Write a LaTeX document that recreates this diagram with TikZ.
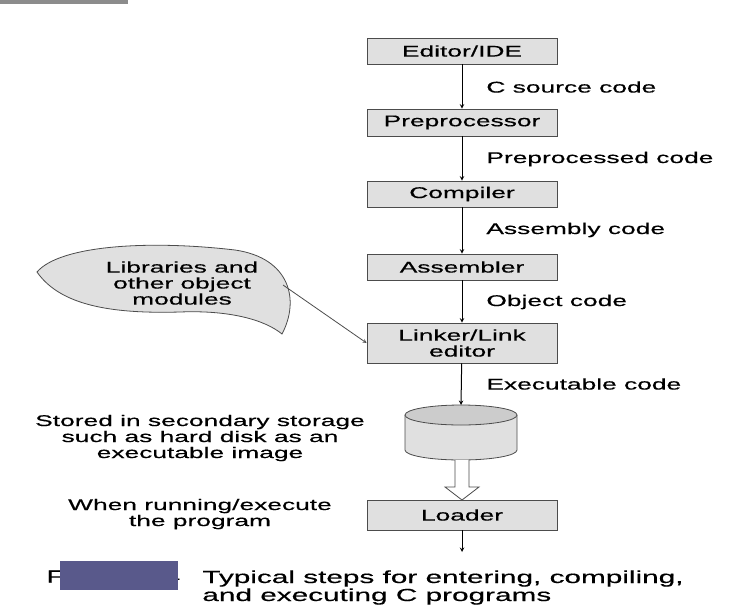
\documentclass[tikz,border=0pt]{standalone}
\usepackage{fontspec}
\setmainfont{Liberation Sans}[FakeStretch=1.7,FakeBold=0.4]
\begin{document}
\begin{tikzpicture}[x=1pt,y=-1pt,font=\fontsize{15.5}{16}\selectfont,line width=0.8pt,
  box/.style={draw=black!70,fill=black!12,minimum width=190pt,inner sep=0pt,align=center},
  lab/.style={anchor=west,inner sep=0pt},
  arr/.style={->,>=stealth,line width=1pt},
  txt/.style={align=center,inner sep=0pt}]
\useasboundingbox (0,0) rectangle (746,613);
\fill[black!45] (0,0) rectangle (128,4);
\node[box,minimum height=26pt] (ed) at (462,51) {Editor/IDE};
\node[box,minimum height=27pt] (pp) at (462,122.5) {Preprocessor};
\node[box,minimum height=26pt] (co) at (462,194) {Compiler};
\node[box,minimum height=26pt] (as) at (462,267) {Assembler};
\node[box,minimum height=40pt,text width=180pt] (li) at (462,343) {Linker/Link\\editor};
\node[box,minimum height=30pt] (lo) at (462,515) {Loader};
\draw[arr] (ed) -- (pp);
\draw[arr] (pp) -- (co);
\draw[arr] (co) -- (as);
\draw[arr] (as) -- (li);
\node[lab] (l1) at (486,87) {C source code};
\node[lab] (l2) at (486,159) {Preprocessed code};
\node[lab] (l3) at (486,230) {Assembly code};
\node[lab] (l4) at (486,302) {Object code};
\node[lab] (l5) at (486,384) {Executable code};
% cylinder
\draw[black!70,fill=black!12] (405,415) -- (405,450) arc[start angle=180,end angle=0,x radius=56,y radius=10] -- (517,415);
\draw[black!70,fill=black!20] (461,415) ellipse[x radius=56,y radius=10];
\coordinate (cyt) at (461,405);
\draw[arr] (li) -- (cyt);
\draw[black!70,fill=white] (455,460) -- (455,487) -- (445,487) -- (462,500) -- (479,487) -- (469,487) -- (469,460);
\coordinate (end) at (462,552);
\draw[arr] (lo) -- (end);
% cloud
\draw[black!70,fill=black!12] (37,272) .. controls (60,245) and (150,240) .. (235,250)
  .. controls (290,258) and (300,300) .. (282,334)
  .. controls (265,320) and (230,310) .. (180,312)
  .. controls (110,314) and (60,305) .. (37,272) -- cycle;
\node[txt] (cl) at (182,283) {Libraries and\\other object\\modules};
\coordinate (cla) at (283,285);
\draw[->,>=stealth,black!70] (cla) -- (li.west);
\node[txt] (st) at (200,438) {Stored in secondary storage\\such as hard disk as an\\executable image};
\node[txt] (wr) at (200,514) {When running/execute\\the program};
\node[lab,font=\fontsize{17.5}{20}\selectfont] (cap) at (202,588) {\begin{tabular}{@{}l@{}}Typical steps for entering, compiling,\\[-2pt]and executing C programs\end{tabular}};
\node[lab,font=\fontsize{17.5}{19}\selectfont] (fig) at (46,578) {Figure 1.4};
\fill[blue!30!black!65!white] (60,561) rectangle (178,590);
\end{tikzpicture}
\end{document}
